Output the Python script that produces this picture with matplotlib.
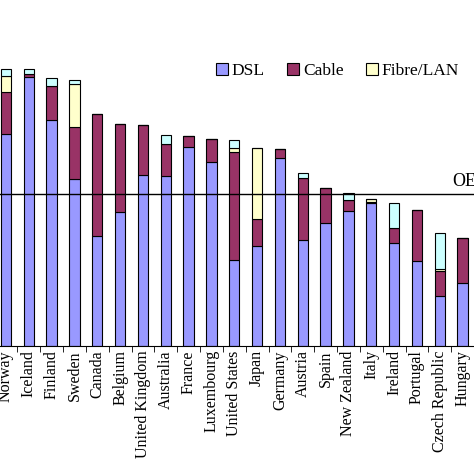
import matplotlib.pyplot as plt
import numpy as np

plt.rcParams['font.family'] = ['Liberation Serif', 'DejaVu Serif']

countries = ['Norway', 'Iceland', 'Finland', 'Sweden', 'Canada', 'Belgium', 'United Kingdom',
             'Australia', 'France', 'Luxembourg', 'United States', 'Japan', 'Germany', 'Austria',
             'Spain', 'New Zealand', 'Italy', 'Ireland', 'Portugal', 'Czech Republic', 'Hungary']
dsl = [212, 269, 226, 167, 110, 134, 171, 170, 199, 184, 86, 100, 188, 106, 123, 135, 143, 103, 85, 50, 63]
cable = [42, 3, 34, 52, 122, 88, 50, 32, 11, 23, 108, 27, 9, 62, 35, 11, 1, 15, 51, 25, 45]
fibre = [16, 0, 0, 43, 0, 0, 0, 0, 0, 0, 4, 71, 0, 0, 0, 0, 3, 0, 0, 2, 0]
other = [7, 5, 8, 4, 0, 0, 0, 9, 0, 0, 8, 0, 0, 5, 0, 7, 0, 25, 0, 36, 0]
oecd_avg = 152

fig = plt.figure(figsize=(4.74, 4.74), dpi=100)
ax = fig.add_axes([0, 128 / 474, 1, 290 / 474])
x = np.arange(len(countries))
dsl = np.array(dsl); cable = np.array(cable); fibre = np.array(fibre); other = np.array(other)
w = 0.45
kw = dict(width=w, edgecolor='black', linewidth=0.8)
b1 = ax.bar(x, dsl, color='#9999ff', label='DSL', **kw)
b2 = ax.bar(x, cable, bottom=dsl, color='#993366', label='Cable', **kw)
b3 = ax.bar(x, fibre, bottom=dsl + cable, color='#ffffcc', label='Fibre/LAN', **kw)
b4 = ax.bar(x, other, bottom=dsl + cable + fibre, color='#ccffff', label='Other', **kw)
ax.axhline(oecd_avg, color='black', linewidth=1)
ax.text(19.55, oecd_avg + 4, 'OECD', fontsize=13, ha='left', va='bottom')

ax.set_xlim(-0.26, -0.26 + 474 / 23)
ax.set_ylim(0, 290)
ax.set_xticks(x)
ax.set_xticklabels(countries, rotation=90, fontsize=11.5)
ax.set_xticks(x + 0.5, minor=True)
ax.tick_params(axis='x', which='major', length=0, pad=3)
ax.tick_params(axis='x', which='minor', length=4, direction='out')
ax.set_yticks([])
for s in ['top', 'right', 'left']:
    ax.spines[s].set_visible(False)

fig.legend(handles=[b1, b2, b3, b4], ncol=4, loc='center left',
           bbox_to_anchor=(216 / 474, 1 - 71 / 474), frameon=False, fontsize=12.5,
           handlelength=0.7, handleheight=0.7, handletextpad=0.2, columnspacing=1.3,
           borderpad=0, borderaxespad=0)

fig.savefig('out.png', dpi=100)
